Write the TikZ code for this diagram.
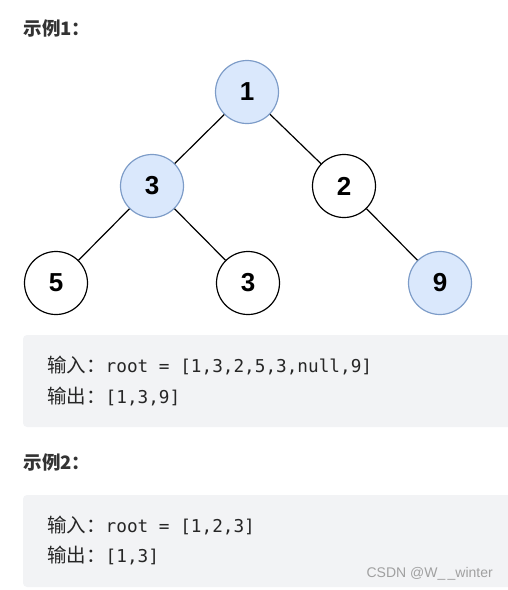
\documentclass[tikz,border=0pt]{standalone}
\usepackage{fontspec}
\setmainfont{Liberation Sans}
\setmonofont{DejaVu Sans Mono}
\newfontfamily\cjk{Noto Sans CJK SC}
\usetikzlibrary{positioning}
\definecolor{nodeblue}{HTML}{DAE8FC}
\definecolor{nodeedge}{HTML}{7D9CC8}
\definecolor{codebg}{HTML}{F2F3F5}
\definecolor{titlegray}{HTML}{333333}
\definecolor{markgray}{HTML}{A0A0A0}

\begin{document}
\begin{tikzpicture}[
  x=1pt, y=-1pt,
  tn/.style={draw, circle, minimum size=63pt, inner sep=0pt, line width=1.2pt,
             font=\fontsize{26}{26}\selectfont\bfseries, fill=white},
  hl/.style={tn, fill=nodeblue, draw=nodeedge},
  edge/.style={line width=1.2pt},
  title/.style={anchor=west, text=titlegray,
                font=\cjk\bfseries\fontsize{18.5}{18.5}\selectfont},
  codebox/.style={fill=codebg, rounded corners=4pt},
  code/.style={anchor=west, inner sep=0pt, text=black!85,
               font=\fontsize{17.7}{17.7}\selectfont}
]
\useasboundingbox (0,0) rectangle (508,590);

% example 1
\node[title] (t1) at (20,28) {示例1：};

\node[hl] (r) at (247,92) {1};
\node[hl] (a) at (152,186) {3};
\node[tn] (b) at (344,186) {2};
\node[tn] (c) at (56,283) {5};
\node[tn] (d) at (248,283) {3};
\node[hl] (e) at (440,283) {9};

\draw[edge] (r) -- (a); \draw[edge] (r) -- (b);
\draw[edge] (a) -- (c); \draw[edge] (a) -- (d);
\draw[edge] (b) -- (e);

\fill[codebox] (23,335) rectangle (514,427);
\node[code] (in1) at (47,366) {{\cjk\fontsize{19.5}{19.5}\selectfont 输入：}\ttfamily root = [1,3,2,5,3,null,9]};
\node[code] (out1) at (47,397) {{\cjk\fontsize{19.5}{19.5}\selectfont 输出：}\ttfamily [1,3,9]};

% example 2
\node[title] (t2) at (20,462) {示例2：};

\fill[codebox] (23,495) rectangle (514,587);
\node[code] (in2) at (47,526) {{\cjk\fontsize{19.5}{19.5}\selectfont 输入：}\ttfamily root = [1,2,3]};
\node[code] (out2) at (47,556) {{\cjk\fontsize{19.5}{19.5}\selectfont 输出：}\ttfamily [1,3]};

\node[anchor=east, inner sep=0pt, text=markgray, font=\fontsize{14}{14}\selectfont]
  (mark) at (493,574) {CSDN @W\_\,\_winter};
\end{tikzpicture}
\end{document}
